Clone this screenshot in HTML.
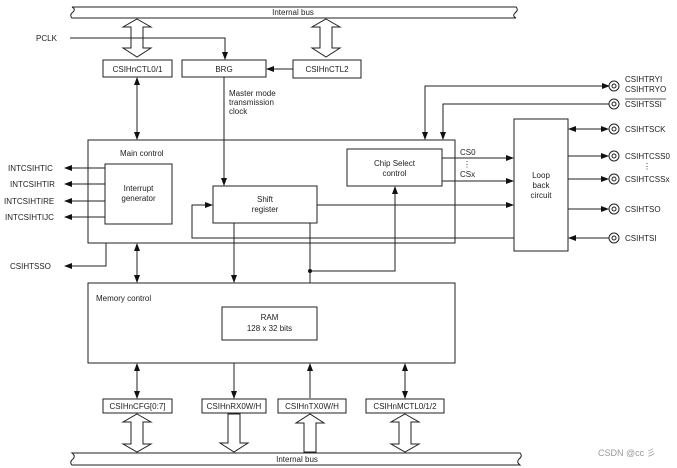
<!DOCTYPE html>
<html><head><meta charset="utf-8"><style>
html,body{margin:0;padding:0;background:#fff;}
svg{display:block;font-family:"Liberation Sans",Arial,sans-serif;}
text{font-size:8px;fill:#222;}
</style></head><body>
<svg width="677" height="468" viewBox="0 0 677 468" xmlns="http://www.w3.org/2000/svg">
<defs>
<marker id="a" markerWidth="8" markerHeight="6" refX="7" refY="3" orient="auto" markerUnits="userSpaceOnUse"><path d="M0,0 L8,3 L0,6 Z" fill="#111"/></marker>
<marker id="s" markerWidth="8" markerHeight="6" refX="1" refY="3" orient="auto" markerUnits="userSpaceOnUse"><path d="M8,0 L0,3 L8,6 Z" fill="#111"/></marker>
</defs>
<g stroke="#222" stroke-width="1" fill="none">
<!-- buses -->
<path d="M72,7 H516 Q519,10 515,13 Q512,16 516,18 H72 Q69,15 73,12 Q76,9 72,7 Z" fill="#fff"/>
<path d="M72,453 H520 Q523,456 519,459 Q516,462 520,465 H72 Q69,462 73,459 Q76,456 72,453 Z" fill="#fff"/>
<!-- fat arrows top -->
<path d="M137,19 L151,27 H143 V48 H151 L137,57 L123,48 H131 V27 H123 Z" fill="#fff"/>
<path d="M326,19 L340,27 H332 V48 H340 L326,57 L312,48 H320 V27 H312 Z" fill="#fff"/>
<!-- fat arrows bottom -->
<path d="M137,414 L151,422 H143 V444 H151 L137,452 L123,444 H131 V422 H123 Z" fill="#fff"/>
<path d="M228,414 H240 V443 H248 L234,452 L220,443 H228 Z" fill="#fff"/>
<path d="M304,452 H316 V423 H324 L310,414 L296,423 H304 Z" fill="#fff"/>
<path d="M405,414 L419,422 H411 V444 H419 L405,452 L391,444 H399 V422 H391 Z" fill="#fff"/>
<!-- boxes -->
<rect x="103" y="60" width="69" height="17"/>
<rect x="182" y="60" width="84" height="17"/>
<rect x="293" y="60" width="68" height="18"/>
<rect x="88" y="140" width="367" height="103"/>
<rect x="105" y="164" width="67" height="60"/>
<rect x="213" y="186" width="104" height="37"/>
<rect x="347" y="149" width="95" height="37"/>
<rect x="514" y="119" width="54" height="132"/>
<rect x="88" y="283" width="367" height="80"/>
<rect x="222" y="307" width="95" height="33"/>
<rect x="103" y="399" width="69" height="14"/>
<rect x="202" y="399" width="64" height="14"/>
<rect x="278" y="399" width="68" height="14"/>
<rect x="366" y="399" width="78" height="14"/>
<!-- top connectors -->
<path d="M70,38 H225 V59" marker-end="url(#a)"/>
<path d="M293,69 H267" marker-end="url(#a)"/>
<path d="M137,78 V139" marker-start="url(#s)" marker-end="url(#a)"/>
<path d="M224,77 V185" marker-end="url(#a)"/>
<!-- interrupts -->
<path d="M105,168 H65" marker-end="url(#a)"/>
<path d="M105,184 H65" marker-end="url(#a)"/>
<path d="M105,201 H65" marker-end="url(#a)"/>
<path d="M105,217 H65" marker-end="url(#a)"/>
<path d="M106,243 V266 H65" marker-end="url(#a)"/>
<!-- shift register loop -->
<path d="M514,238 H192 V205 H212" marker-end="url(#a)"/>
<path d="M317,205 H513" marker-end="url(#a)"/>
<path d="M442,158 H513" marker-end="url(#a)"/>
<path d="M442,181 H513" marker-end="url(#a)"/>
<path d="M234,223 V282" marker-end="url(#a)"/>
<path d="M310,223 V283"/>
<path d="M310,271 H395 V187" marker-end="url(#a)"/>
<path d="M137,244 V282" marker-start="url(#s)" marker-end="url(#a)"/>
<!-- right side -->
<path d="M609,86 H425 V139" marker-start="url(#s)" marker-end="url(#a)"/>
<path d="M609,104 H443 V139" marker-end="url(#a)"/>
<path d="M569,129 H608" marker-start="url(#s)" marker-end="url(#a)"/>
<path d="M568,156 H608" marker-end="url(#a)"/>
<path d="M568,179 H608" marker-end="url(#a)"/>
<path d="M568,209 H608" marker-end="url(#a)"/>
<path d="M609,238 H569" marker-end="url(#a)"/>
<!-- bottom -->
<path d="M137,364 V398" marker-start="url(#s)" marker-end="url(#a)"/>
<path d="M234,363 V398" marker-end="url(#a)"/>
<path d="M310,398 V364" marker-end="url(#a)"/>
<path d="M405,364 V398" marker-start="url(#s)" marker-end="url(#a)"/>
<!-- pins -->
<g>
<circle cx="614" cy="86" r="5"/><circle cx="614" cy="86" r="2"/>
<circle cx="614" cy="104" r="5"/><circle cx="614" cy="104" r="2"/>
<circle cx="614" cy="129" r="5"/><circle cx="614" cy="129" r="2"/>
<circle cx="614" cy="156" r="5"/><circle cx="614" cy="156" r="2"/>
<circle cx="614" cy="179" r="5"/><circle cx="614" cy="179" r="2"/>
<circle cx="614" cy="209" r="5"/><circle cx="614" cy="209" r="2"/>
<circle cx="614" cy="238" r="5"/><circle cx="614" cy="238" r="2"/>
</g>
</g>
<circle cx="310" cy="271" r="2" fill="#111"/>
<!-- text -->
<text x="293" y="15" text-anchor="middle">Internal bus</text>
<text x="297" y="462" text-anchor="middle">Internal bus</text>
<text x="36" y="41">PCLK</text>
<text x="137.5" y="72" text-anchor="middle">CSIHnCTL0/1</text>
<text x="224" y="72" text-anchor="middle">BRG</text>
<text x="327" y="72" text-anchor="middle">CSIHnCTL2</text>
<text x="229" y="96">Master mode</text>
<text x="229" y="105">transmission</text>
<text x="229" y="114">clock</text>
<text x="120" y="156">Main control</text>
<text x="138.5" y="191" text-anchor="middle">Interrupt</text>
<text x="138.5" y="201" text-anchor="middle">generator</text>
<text x="265" y="202" text-anchor="middle">Shift</text>
<text x="265" y="212" text-anchor="middle">register</text>
<text x="394.5" y="166" text-anchor="middle">Chip Select</text>
<text x="394.5" y="176" text-anchor="middle">control</text>
<text x="460" y="155">CS0</text>
<text x="467" y="167" text-anchor="middle">⋮</text>
<text x="460" y="177">CSx</text>
<text x="541" y="178" text-anchor="middle">Loop</text>
<text x="541" y="188" text-anchor="middle">back</text>
<text x="541" y="198" text-anchor="middle">circuit</text>
<text x="8" y="171">INTCSIHTIC</text>
<text x="10" y="187">INTCSIHTIR</text>
<text x="4" y="204">INTCSIHTIRE</text>
<text x="5" y="220">INTCSIHTIJC</text>
<text x="10" y="269">CSIHTSSO</text>
<text x="625" y="82">CSIHTRYI</text>
<text x="625" y="92">CSIHTRYO</text>
<text x="625" y="107">CSIHTSSI</text>
<line x1="625" y1="99" x2="666" y2="99" stroke="#222" stroke-width="0.8"/>
<text x="625" y="132">CSIHTSCK</text>
<text x="625" y="159">CSIHTCSS0</text>
<text x="647" y="169" text-anchor="middle">⋮</text>
<text x="625" y="182">CSIHTCSSx</text>
<text x="625" y="212">CSIHTSO</text>
<text x="625" y="241">CSIHTSI</text>
<text x="96" y="301">Memory control</text>
<text x="269.5" y="320" text-anchor="middle">RAM</text>
<text x="269.5" y="331" text-anchor="middle">128 x 32 bits</text>
<text x="137.5" y="409" text-anchor="middle">CSIHnCFG[0:7]</text>
<text x="234" y="409" text-anchor="middle">CSIHnRX0W/H</text>
<text x="312" y="409" text-anchor="middle">CSIHnTX0W/H</text>
<text x="405" y="409" text-anchor="middle">CSIHnMCTL0/1/2</text>
<text x="598" y="456" style="font-size:9px;fill:#999">CSDN @cc 彡</text>
</svg>
</body></html>
